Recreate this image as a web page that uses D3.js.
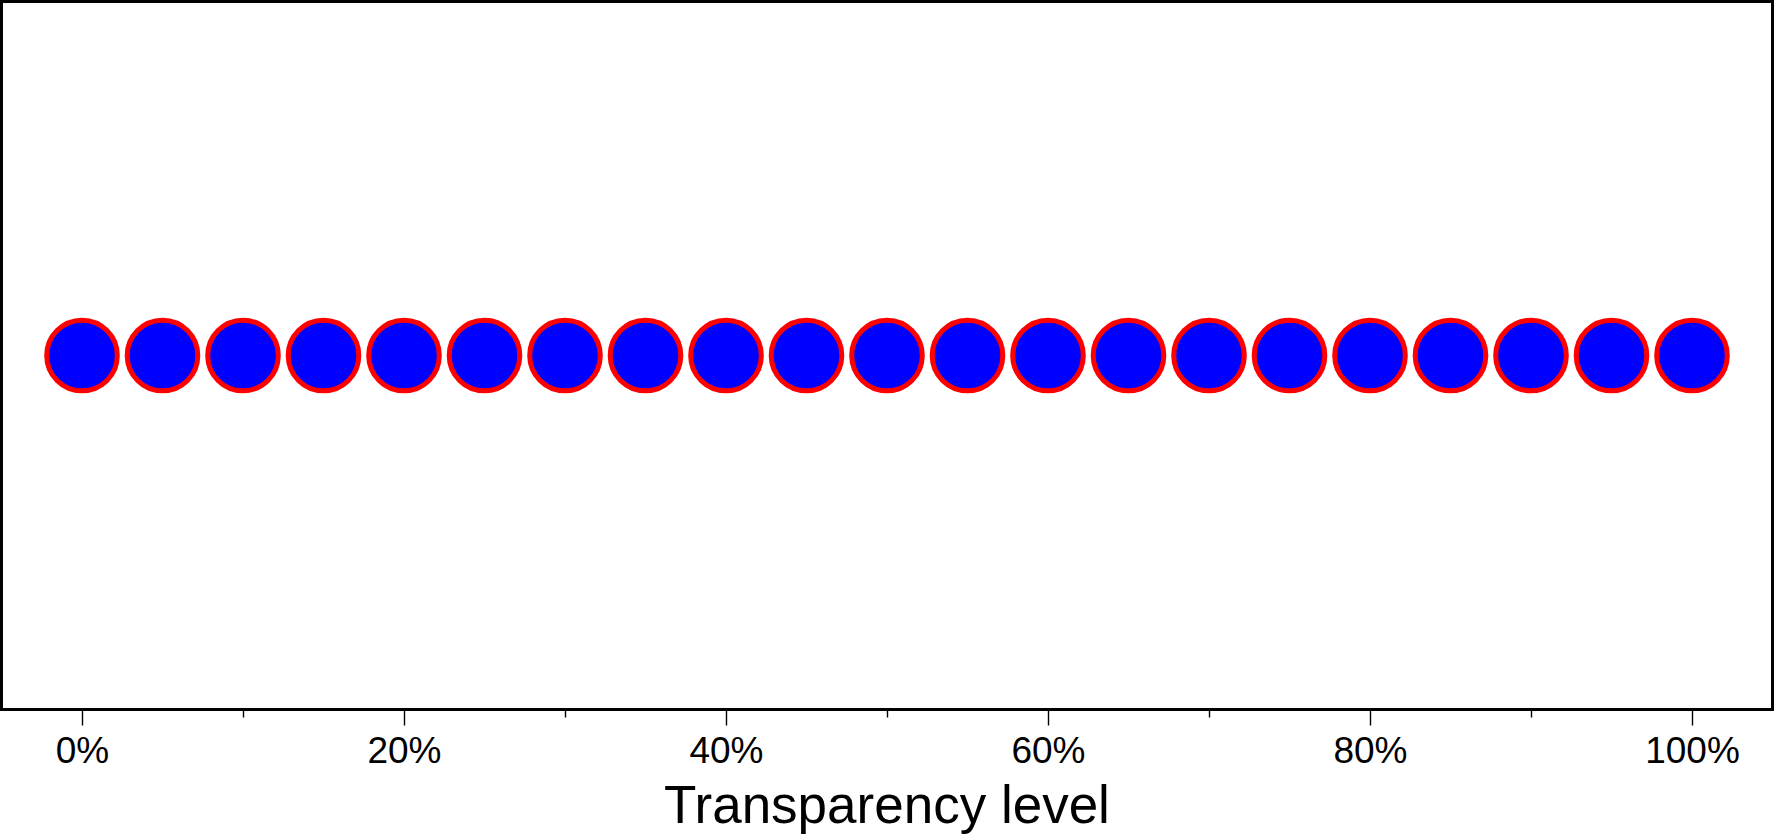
<!DOCTYPE html>
<html>
<head>
<meta charset="utf-8">
<script src="https://cdn.jsdelivr.net/npm/d3@7"></script>
<style>
  body { margin: 0; background: #fff; }
  svg { display: block; }
</style>
</head>
<body>
<div id="chart"></div>
<script>
// transparency levels (%) of each circle
const levels = [0, 5, 10, 15, 20, 25, 30, 35, 40, 45, 50, 55, 60, 65, 70, 75, 80, 85, 90, 95, 100];
const yValues = [0, 0, 0, 0, 0, 0, 0, 0, 0, 0, 0, 0, 0, 0, 0, 0, 0, 0, 0, 0, 0];
const majorTicks = [0, 20, 40, 60, 80, 100];
const minorTicks = [10, 30, 50, 70, 90];
const xDomain = [-5, 105];
const yDomain = [-1, 1];
const axisTitle = "Transparency level";

const width = 1774;
const height = 838;

const frame = { left: 1.5, right: 1772.5, top: 1.5, bottom: 709.5 };

const svg = d3.select("#chart")
  .append("svg")
  .attr("width", width)
  .attr("height", height);

const x = d3.scaleLinear()
  .domain(xDomain)
  .range([frame.left, frame.right]);

const y = d3.scaleLinear()
  .domain(yDomain)
  .range([frame.bottom, frame.top]);

// circles
svg.append("g")
  .selectAll("circle")
  .data(levels.map((d, i) => ({ x: d, y: yValues[i] })))
  .enter()
  .append("circle")
  .attr("cx", d => x(d.x))
  .attr("cy", d => y(d.y))
  .attr("r", 35.3)
  .attr("fill", "#0000ff")
  .attr("stroke", "#ff0000")
  .attr("stroke-width", 5);

// frame
svg.append("rect")
  .attr("x", frame.left)
  .attr("y", frame.top)
  .attr("width", frame.right - frame.left)
  .attr("height", frame.bottom - frame.top)
  .attr("fill", "none")
  .attr("stroke", "#000")
  .attr("stroke-width", 3);

// major ticks + labels
const major = svg.append("g")
  .attr("transform", `translate(0, ${frame.bottom})`)
  .call(d3.axisBottom(x)
    .tickValues(majorTicks)
    .tickSize(16)
    .tickFormat(d => d + "%"));

major.select(".domain").remove();
major.selectAll(".tick line")
  .attr("stroke", "#000")
  .attr("stroke-width", 1.4);
major.selectAll(".tick text")
  .attr("y", 53.5)
  .attr("dy", null)
  .attr("fill", "#000")
  .style("font-family", "'Liberation Sans', Arial, Helvetica, sans-serif")
  .style("font-size", "37px");

// minor ticks
const minor = svg.append("g")
  .attr("transform", `translate(0, ${frame.bottom})`)
  .call(d3.axisBottom(x)
    .tickValues(minorTicks)
    .tickSize(8)
    .tickFormat(""));

minor.select(".domain").remove();
minor.selectAll(".tick line")
  .attr("stroke", "#000")
  .attr("stroke-width", 1.4);

// axis title
svg.append("text")
  .attr("x", (frame.left + frame.right) / 2)
  .attr("y", 823)
  .attr("text-anchor", "middle")
  .style("font-family", "'Liberation Sans', Arial, Helvetica, sans-serif")
  .style("font-size", "53px")
  .text(axisTitle);
</script>
</body>
</html>
